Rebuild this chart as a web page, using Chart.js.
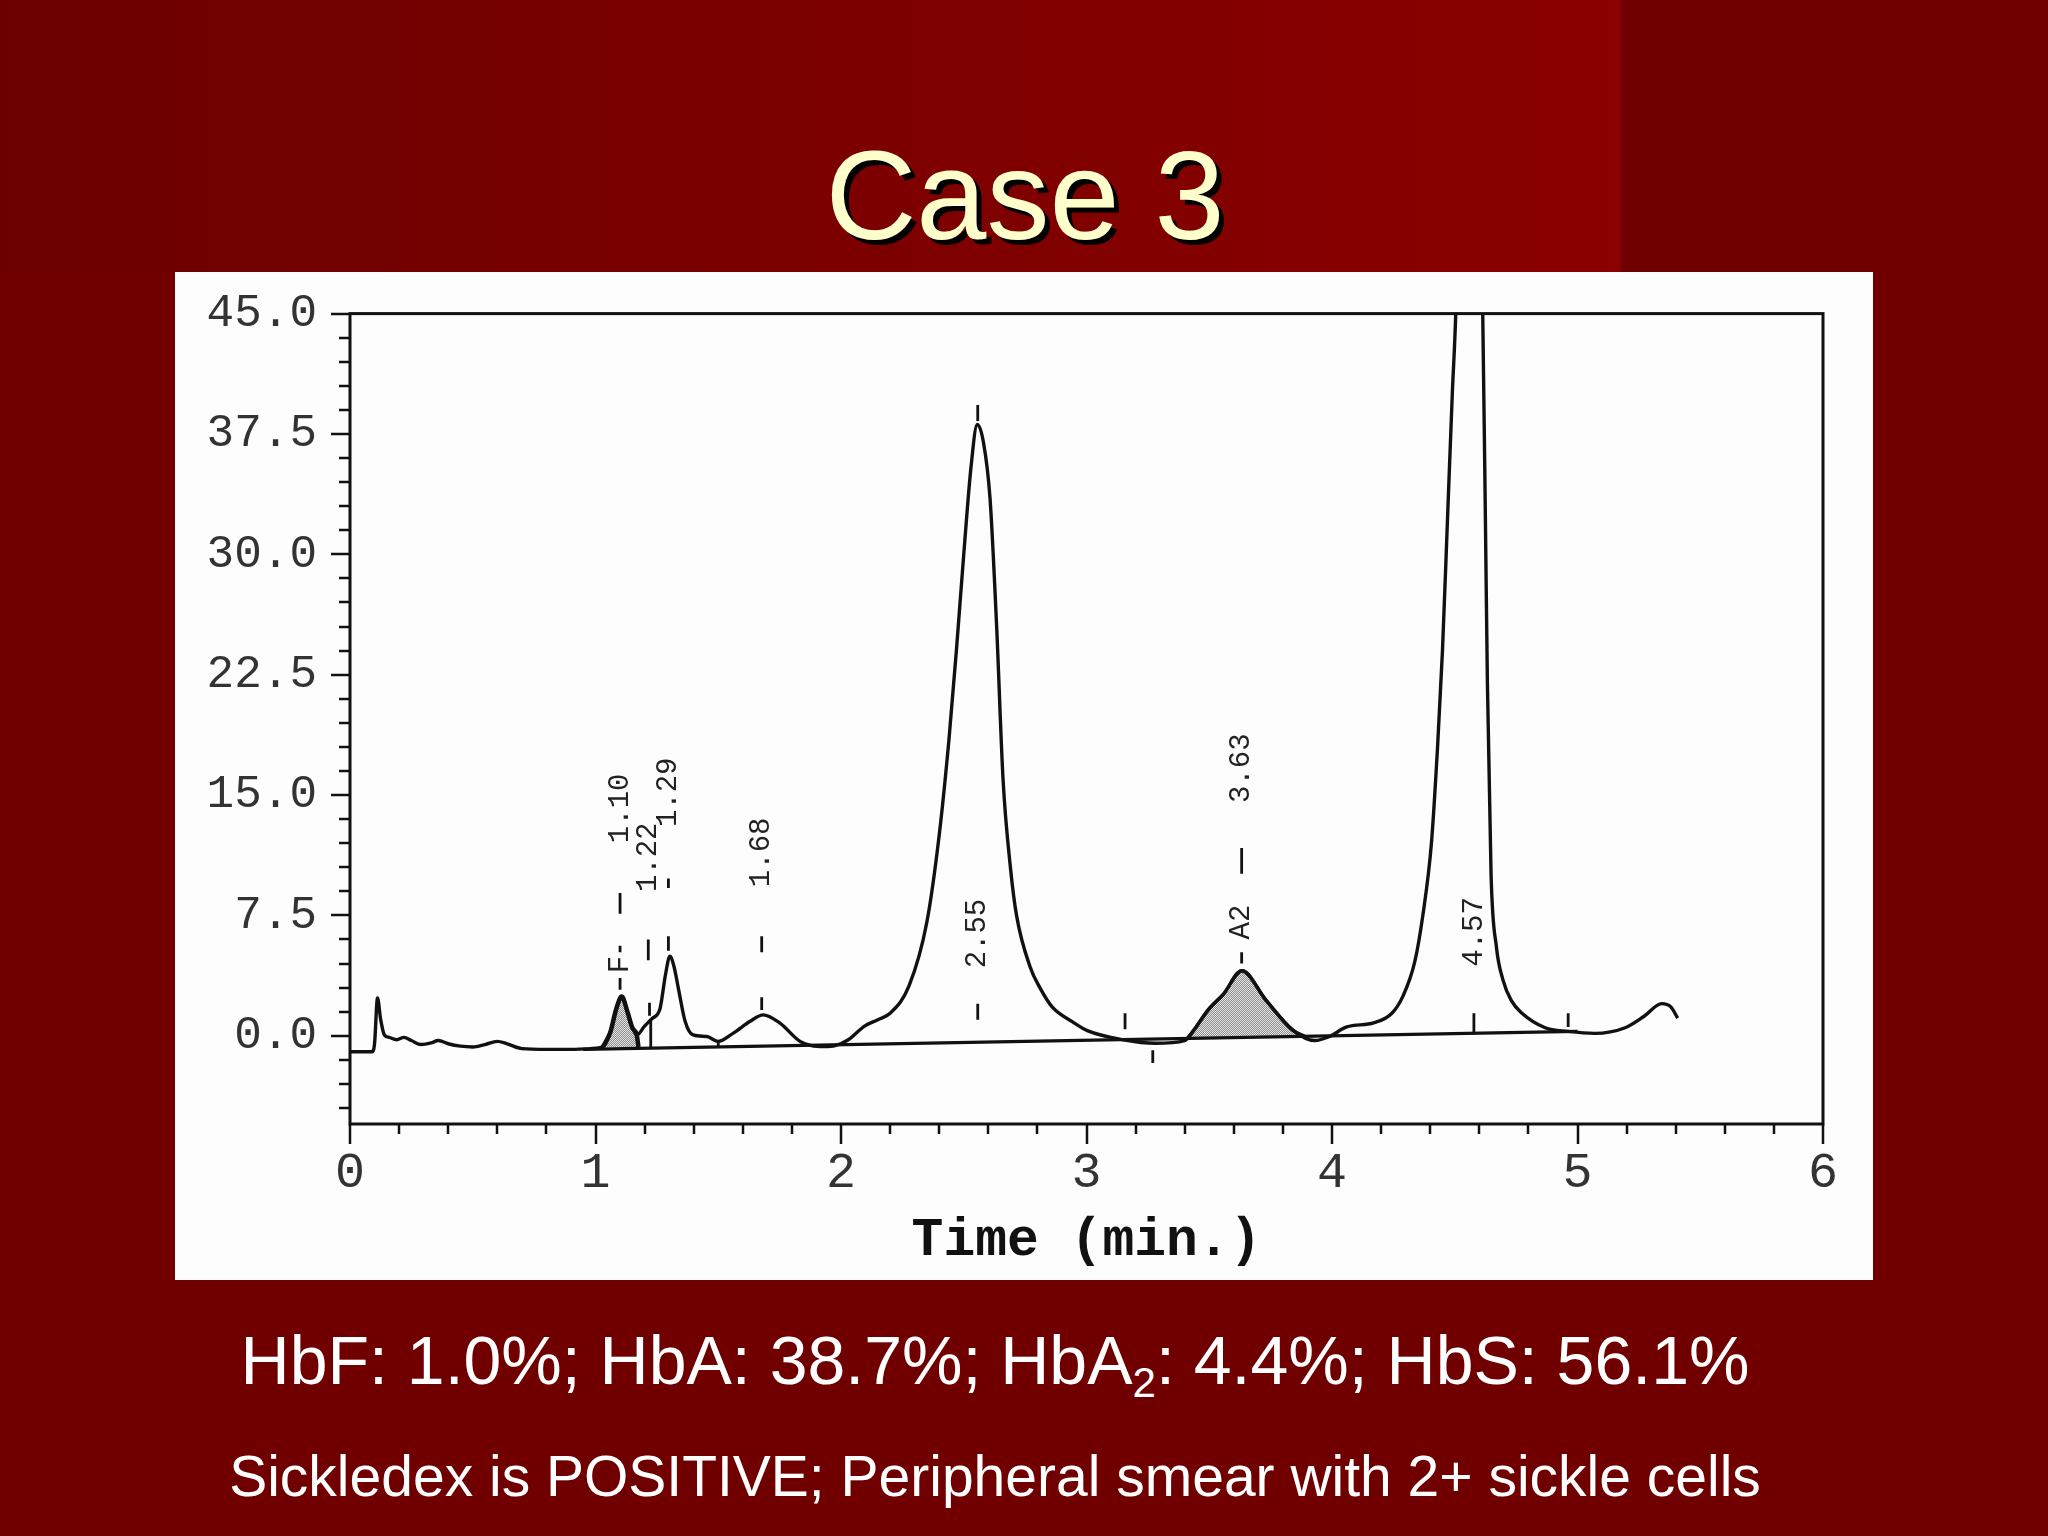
<!DOCTYPE html>
<html>
<head>
<meta charset="utf-8">
<script src="https://cdn.jsdelivr.net/npm/chart.js@4.4.1/dist/chart.umd.min.js"></script>
<style>
  html, body { margin: 0; padding: 0; }
  body { width: 2048px; height: 1536px; position: relative; overflow: hidden; background: #700000; font-family: "Liberation Sans", Arial, sans-serif; }
  #band { position: absolute; left: 0; top: 0; width: 1621px; height: 272px; background: linear-gradient(to right, #6c0000, #8b0000); }
  #title { position: absolute; left: 0; top: 133px; width: 2050px; text-align: center; font-size: 126px; line-height: 1; color: #ffffcc; text-shadow: 5px 5px 0 #000; }
  #panel { position: absolute; left: 175px; top: 272px; width: 1698px; height: 1008px; background: #fdfdfd; }
  #chart { display: block; }
  .note { position: absolute; left: 0; width: 1990px; text-align: center; color: #fff; line-height: 1; white-space: nowrap; }
  #line1 { top: 1326px; font-size: 68px; }
  #line2 { top: 1448px; font-size: 57px; }
  sub { font-size: 0.62em; line-height: 0; vertical-align: -0.3em; }
</style>
</head>
<body>
<div id="band"></div>
<div id="title">Case 3</div>
<div id="panel"><canvas id="chart" width="1698" height="1008"></canvas></div>
<div class="note" id="line1">HbF: 1.0%; HbA: 38.7%; HbA<sub>2</sub>: 4.4%; HbS: 56.1%</div>
<div class="note" id="line2">Sickledex is POSITIVE; Peripheral smear with 2+ sickle cells</div>
<script>
// detector trace (time in min, signal in mV)
const curveTime = [0.00, 0.09, 0.10, 0.112, 0.125, 0.14, 0.16, 0.19, 0.22, 0.25, 0.29, 0.33, 0.36, 0.40, 0.45, 0.50, 0.55, 0.60, 0.64, 0.70, 0.80, 0.90, 0.96,
  1.03, 1.06, 1.085, 1.107, 1.13, 1.15, 1.168, 1.20, 1.229, 1.263, 1.285, 1.303, 1.32, 1.337, 1.365, 1.397, 1.453, 1.50, 1.56, 1.63, 1.683, 1.75, 1.833, 1.88, 1.93, 1.976,
  2.03, 2.096, 2.15, 2.20, 2.277, 2.35, 2.40, 2.44, 2.47, 2.50, 2.53, 2.555, 2.58, 2.607, 2.634, 2.66, 2.69, 2.715, 2.77, 2.81, 2.86, 2.945,
  3.006, 3.15, 3.28, 3.40, 3.435, 3.495, 3.558, 3.633, 3.73, 3.84, 3.93, 3.99,
  4.06, 4.17, 4.244, 4.29, 4.337, 4.37, 4.405, 4.43, 4.45, 4.47, 4.49, 4.504, 4.53, 4.56, 4.59, 4.614, 4.625, 4.633, 4.648, 4.67, 4.696, 4.73, 4.774, 4.868, 4.962,
  5.07, 5.194, 5.27, 5.343, 5.38, 5.408];
const curveSignal = [-1.0, -1.0, -0.5, 2.35, 1.0, 0.05, -0.1, -0.25, -0.1, -0.3, -0.55, -0.45, -0.3, -0.5, -0.65, -0.7, -0.55, -0.35, -0.5, -0.8, -0.85, -0.85, -0.82,
  -0.7, 0.2, 1.7, 2.45, 1.5, 0.5, 0.05, 0.6, 1.05, 1.7, 3.8, 4.95, 4.3, 3.0, 0.9, 0.05, -0.05, -0.35, 0.15, 0.9, 1.3, 0.8, -0.35, -0.62, -0.68, -0.62,
  -0.25, 0.6, 1.0, 1.4, 3.1, 7.1, 12.5, 18.5, 24, 30, 35.5, 38.1, 37, 33.5, 25.5, 16, 10.5, 7.5, 4.3, 3.0, 1.8, 0.85,
  0.3, -0.25, -0.47, -0.3, 0.3, 1.6, 2.6, 4.05, 2.24, 0.35, -0.3, -0.05,
  0.55, 0.8, 1.4, 2.5, 4.6, 7.5, 12, 18, 24, 32, 40, 45, 62, 75, 62, 45, 32, 22, 10, 5.5, 3.5, 2.2, 1.4, 0.5, 0.27,
  0.15, 0.5, 1.2, 2.0, 1.8, 1.1];

// integration baseline
const baselineTime = [0.95, 5.0];
const baselineSignal = [-0.85, 0.27];

// shaded (integrated) peaks: F and A2
const fAreaTime = [1.03, 1.06, 1.085, 1.107, 1.13, 1.15, 1.168, 1.175];
const fAreaSignal = [-0.7, 0.2, 1.7, 2.45, 1.5, 0.5, 0.05, -0.7];
const a2AreaTime = [3.41, 3.435, 3.495, 3.558, 3.633, 3.73, 3.84, 3.89];
const a2AreaSignal = [-0.18, 0.3, 1.6, 2.6, 4.05, 2.24, 0.35, -0.05];

// printed peak labels (rotated), anchored at their lower end
const peakLabelText = ['1.10', 'F', '1.22', '1.29', '1.68', '2.55', 'A2', '3.63', '4.57'];
const peakLabelTime = [1.10, 1.10, 1.215, 1.297, 1.677, 2.555, 3.632, 3.632, 4.578];
const peakLabelBase = [12.0, 3.9, 8.95, 13.0, 9.26, 4.2, 6.0, 14.5, 4.3];

// short vertical marks printed by the integrator
const markTime = [1.10, 1.10, 1.10, 1.22, 1.225, 1.215, 1.297, 1.297, 1.50, 1.677, 1.677, 2.557, 2.557, 3.157, 3.27, 3.632, 3.632, 4.578, 4.962];
const markFrom = [2.86, 5.2, 7.6, 1.25, -0.77, 4.7, 5.3, 9.2, -0.72, 1.6, 5.2, 38.3, 1.0, 0.4, -0.9, 4.5, 10.1, 0.1, 0.55];
const markTo = [3.6, 5.6, 8.9, 2.05, 1.05, 6.0, 6.2, 9.8, -0.35, 2.4, 6.2, 39.3, 2.0, 1.4, -1.7, 5.2, 11.7, 1.4, 1.4];

const xTickValues = [0, 1, 2, 3, 4, 5, 6];
const yTickValues = [0, 7.5, 15, 22.5, 30, 37.5, 45];

const monoFont = '"Liberation Mono", "DejaVu Sans Mono", monospace';
const pts = (xs, ys) => xs.map((x, i) => ({ x, y: ys[i] }));

// grey stipple used by the printer for integrated areas
const stipple = (() => {
  const c = document.createElement('canvas');
  c.width = 2; c.height = 2;
  const g = c.getContext('2d');
  g.fillStyle = '#e6e6e6'; g.fillRect(0, 0, 2, 2);
  g.fillStyle = '#8c8c8c'; g.fillRect(0, 0, 1, 1); g.fillRect(1, 1, 1, 1);
  return g.createPattern(c, 'repeat');
})();

const chromatogramDecor = {
  id: 'chromatogramDecor',
  afterDraw(chart) {
    const { ctx, chartArea: a, scales: { x, y } } = chart;
    ctx.save();
    ctx.strokeStyle = '#111';
    ctx.lineWidth = 3;
    ctx.strokeRect(a.left, a.top, a.right - a.left, a.bottom - a.top);

    // axis ticks: minor every 1.5 / 0.2, major every 7.5 / 1
    ctx.lineWidth = 2.5;
    ctx.beginPath();
    for (let k = -3; k <= 30; k++) {
      const py = Math.round(y.getPixelForValue(k * 1.5));
      ctx.moveTo(a.left - (k % 5 === 0 ? 19 : 11), py);
      ctx.lineTo(a.left, py);
    }
    for (let k = 0; k <= 30; k++) {
      const px = Math.round(x.getPixelForValue(k * 0.2));
      ctx.moveTo(px, a.bottom);
      ctx.lineTo(px, a.bottom + (k % 5 === 0 ? 20 : 10));
    }
    ctx.stroke();

    // peak marks
    ctx.lineWidth = 2.8;
    ctx.beginPath();
    markTime.forEach((t, i) => {
      const px = x.getPixelForValue(t);
      ctx.moveTo(px, y.getPixelForValue(markFrom[i]));
      ctx.lineTo(px, y.getPixelForValue(markTo[i]));
    });
    ctx.stroke();

    // retention time labels
    ctx.fillStyle = '#222';
    ctx.font = '29px ' + monoFont;
    ctx.textAlign = 'left';
    ctx.textBaseline = 'middle';
    peakLabelText.forEach((s, i) => {
      ctx.save();
      ctx.translate(x.getPixelForValue(peakLabelTime[i]), y.getPixelForValue(peakLabelBase[i]));
      ctx.rotate(-Math.PI / 2);
      ctx.fillText(s, 0, 0);
      ctx.restore();
    });
    ctx.restore();
  }
};

new Chart(document.getElementById('chart'), {
  type: 'line',
  data: {
    datasets: [
      { data: pts(curveTime, curveSignal), borderColor: '#111', borderWidth: 3.4, pointRadius: 0, cubicInterpolationMode: 'monotone', fill: false, order: 1 },
      { data: pts(baselineTime, baselineSignal), borderColor: '#111', borderWidth: 3.2, pointRadius: 0, fill: false, order: 2 },
      { data: pts(fAreaTime, fAreaSignal), borderColor: '#111', borderWidth: 4.5, backgroundColor: stipple, pointRadius: 0, cubicInterpolationMode: 'monotone', fill: 'shape', order: 3 },
      { data: pts(a2AreaTime, a2AreaSignal), borderColor: '#111', borderWidth: 3.4, backgroundColor: stipple, pointRadius: 0, cubicInterpolationMode: 'monotone', fill: 'shape', order: 4 }
    ]
  },
  options: {
    responsive: false,
    animation: false,
    devicePixelRatio: 1,
    layout: { padding: { left: 0, top: 40, right: 50, bottom: 0 } },
    plugins: { legend: { display: false }, tooltip: { enabled: false } },
    scales: {
      x: {
        type: 'linear', min: 0, max: 6,
        afterBuildTicks: s => { s.ticks = xTickValues.map(v => ({ value: v })); },
        afterFit: s => { s.height = 156; },
        grid: { display: false, drawTicks: true, tickLength: 20 },
        border: { display: false },
        ticks: { autoSkip: false, maxRotation: 0, padding: 0, color: '#333', font: { family: monoFont, size: 50 }, callback: v => String(v) },
        title: { display: true, text: 'Time (min.)', color: '#111', font: { family: monoFont, size: 53, weight: 'bold' }, padding: { top: 0, bottom: 7 } }
      },
      y: {
        type: 'linear', min: -5.5, max: 45,
        afterBuildTicks: s => { s.ticks = yTickValues.map(v => ({ value: v })); },
        afterFit: s => { s.width = 175; },
        grid: { display: false, drawTicks: true, tickLength: 19 },
        border: { display: false },
        ticks: { autoSkip: false, padding: 14, color: '#333', font: { family: monoFont, size: 46 }, callback: v => v.toFixed(1) }
      }
    }
  },
  plugins: [chromatogramDecor]
});
</script>
</body>
</html>
